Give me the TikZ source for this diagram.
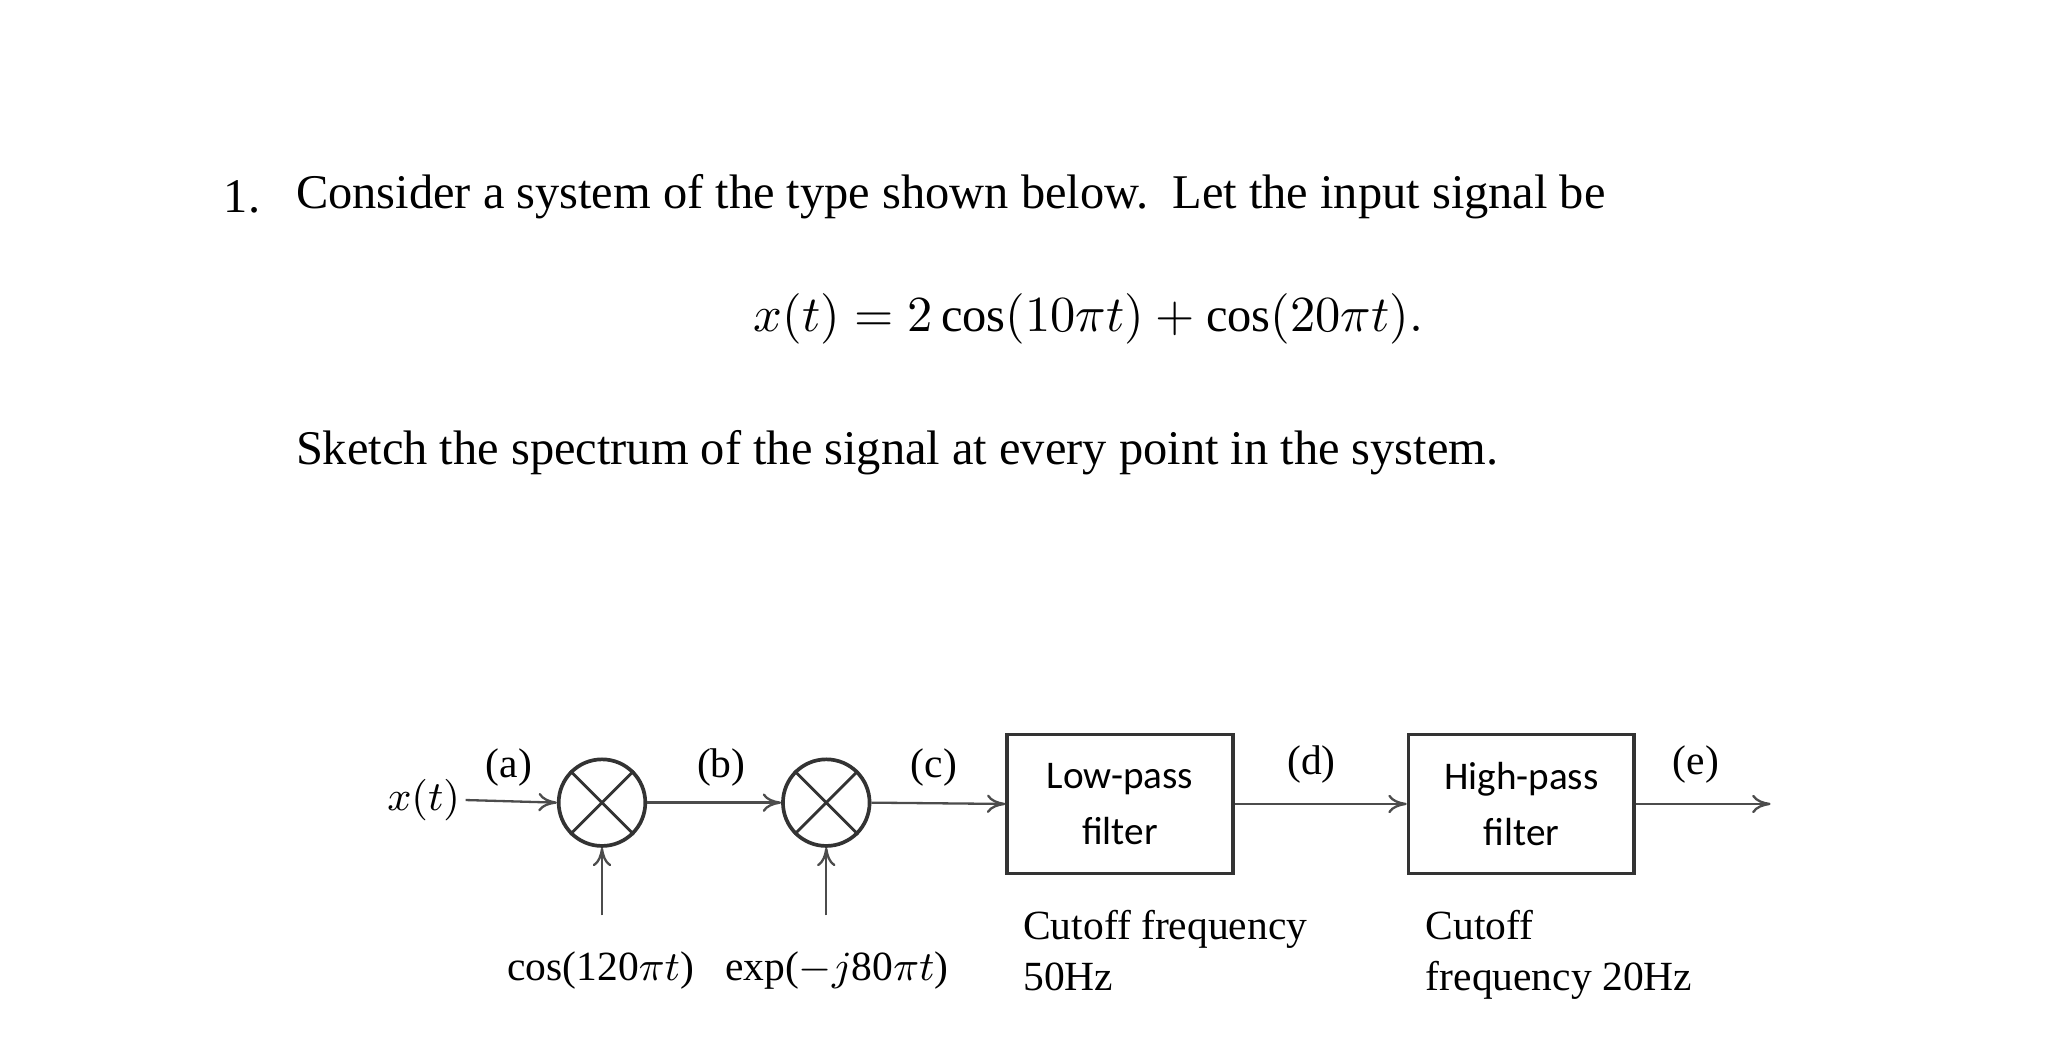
\documentclass[tikz,border=0pt]{standalone}
\usepackage{fontspec}
\setmainfont{Liberation Serif}
\newfontfamily\calib{Carlito}
\usetikzlibrary{arrows.meta}
\begin{document}
\begin{tikzpicture}[x=0.01cm,y=-0.01cm,
  sig/.style={-{To[length=4pt,width=4pt]},line width=0.5pt,draw=black!70},
  mult/.style={circle,draw=black!80,line width=0.8pt,minimum size=0.66cm,inner sep=0pt},
  filt/.style={draw=black!80,line width=0.8pt,minimum width=1.72cm,minimum height=1.06cm,align=center,font=\calib\fontsize{8.5}{12}\selectfont},
  lab/.style={font=\fontsize{9}{11}\selectfont,inner sep=1pt},
  txt/.style={font=\fontsize{10.5}{13}\selectfont,anchor=west,inner sep=0pt}]
\useasboundingbox (0,0) rectangle (1560,792);
\node[txt] (n1) at (170,150) {1.};
\node[txt] (l1) at (225,150) {Consider a system of the type shown below.\ \ Let the input signal be};
\node[font=\fontsize{10.5}{13}\selectfont] (eq) at (830,243) {$x(t) = 2\cos(10\pi t) + \cos(20\pi t).$};
\node[txt] (l2) at (225,345) {Sketch the spectrum of the signal at every point in the system.};
% diagram
\node[lab,anchor=east] (x) at (355,610) {$x(t)$};
\node[mult] (m1) at (459,612) {};
\draw[line width=0.6pt,black!80] (m1.45)--(m1.225) (m1.135)--(m1.315);
\node[mult] (m2) at (630,612) {};
\draw[line width=0.6pt,black!80] (m2.45)--(m2.225) (m2.135)--(m2.315);
\node[filt] (lp) at (854,613) {Low-pass\\filter};
\node[filt] (hp) at (1160,613) {High-pass\\filter};
\coordinate (out) at (1350,613);
\draw[sig] (x.east) -- (m1.west);
\draw[sig] (m1.east) -- (m2.west);
\draw[sig] (m2.east) -- (lp.west);
\draw[sig] (lp.east) -- (hp.west);
\draw[sig] (hp.east) -- (out);
\node[lab] (a) at (388,585) {(a)};
\node[lab] (b) at (550,585) {(b)};
\node[lab] (c) at (712,585) {(c)};
\node[lab] (d) at (1000,583) {(d)};
\node[lab] (e) at (1293,583) {(e)};
\coordinate (c1) at (459,698);
\coordinate (c2) at (630,698);
\draw[sig] (c1) -- (m1.south);
\draw[sig] (c2) -- (m2.south);
\node[lab] (cs) at (458,740) {cos(120$\pi t$)};
\node[lab] (ex) at (638,740) {exp($-j$80$\pi t$)};
\node[lab,anchor=north west,align=left] (cf1) at (776,690) {Cutoff frequency\\50Hz};
\node[lab,anchor=north west,align=left] (cf2) at (1083,690) {Cutoff\\frequency 20Hz};
\end{tikzpicture}
\end{document}
